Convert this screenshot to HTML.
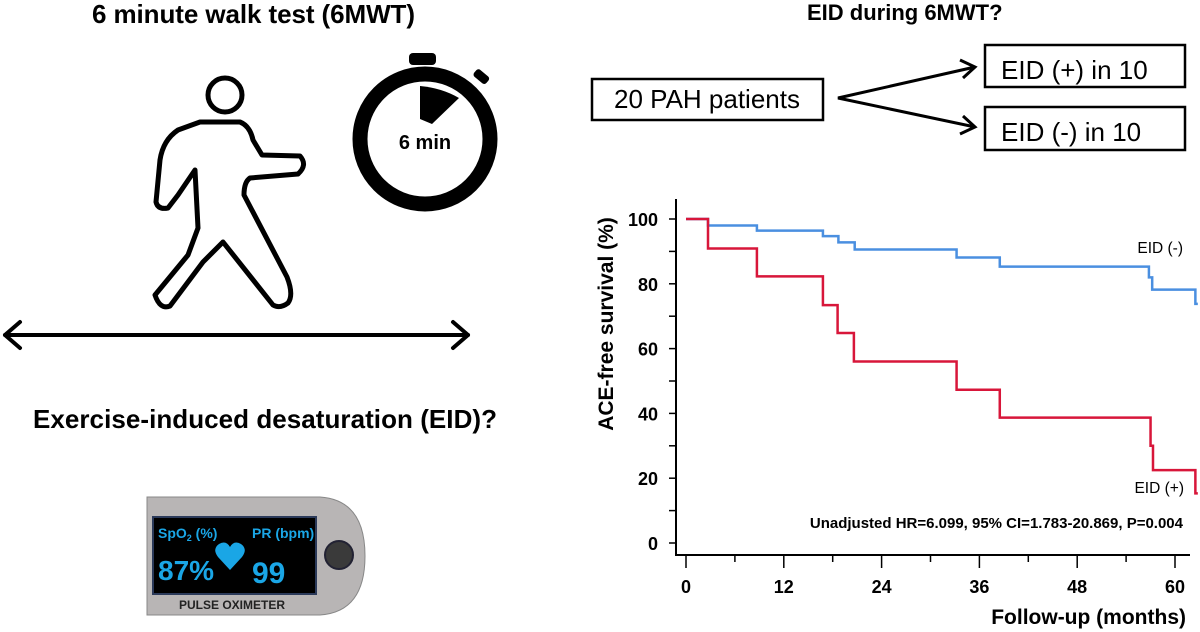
<!DOCTYPE html>
<html><head><meta charset="utf-8"><style>
body{margin:0;background:#fff;width:1200px;height:632px;overflow:hidden;font-family:"Liberation Sans",Arial,sans-serif}
svg{display:block}
</style></head><body>
<svg width="1200" height="632" viewBox="0 0 1200 632" xmlns="http://www.w3.org/2000/svg" font-family="Liberation Sans, Arial, sans-serif">
<text x="92" y="23" font-size="26" font-weight="bold" textLength="323">6 minute walk test (6MWT)</text>
<g fill="none" stroke="#000" stroke-width="5" stroke-linejoin="round" stroke-linecap="round">
<circle cx="225" cy="95" r="17"/>
<path d="M200 122 L240 122 Q250 126 253 140 L262 155 L300 156 Q308 165 298 174 L250 178 Q244 182 244 195 L287 277 Q294 295 288 303 Q280 309 273 305 L223 242 L203 262 L170 306 Q160 310 155 295 L188 255 L198 228 L195 170 L178 195 L168 208 Q158 210 156 202 L160 160 Q163 140 178 130 Z"/>
</g>
<g>
<circle cx="425" cy="139" r="65" fill="none" stroke="#000" stroke-width="15"/>
<rect x="409" y="53" width="27" height="12" rx="4" fill="#000"/>
<rect x="473" y="72" width="16" height="9" rx="3" fill="#000" transform="rotate(40 481 77)"/>
<path d="M420 86 L420 119 L432 124 L459 98 Q442 88 420 86 Z" fill="#000"/>
<text x="425" y="149" text-anchor="middle" font-size="20" font-weight="bold">6 min</text>
</g>
<g stroke="#000" stroke-width="4" fill="none" stroke-linecap="round" stroke-linejoin="round">
<line x1="5" y1="335" x2="468" y2="335"/>
<polyline points="20,322 5,335 20,348"/>
<polyline points="453,322 468,335 453,348"/>
</g>
<text x="33" y="428" font-size="26" font-weight="bold" textLength="464">Exercise-induced desaturation (EID)?</text>
<g>
<path d="M147 497 L320 497 Q365 500 365 556 Q365 612 320 615 L147 615 Z" fill="#b8b5b5" stroke="#888" stroke-width="1"/>
<rect x="153" y="517" width="163" height="77" fill="#000" stroke="#2b3a5a" stroke-width="2"/>
<circle cx="339" cy="555" r="14" fill="#3a3a3a" stroke="#223" stroke-width="2"/>
<text x="158" y="538" font-size="14" font-weight="bold" fill="#1aa6e6">SpO<tspan font-size="9" dy="3">2</tspan><tspan dy="-3"> (%)</tspan></text>
<text x="252" y="538" font-size="14" font-weight="bold" fill="#1aa6e6">PR (bpm)</text>
<text x="158" y="580" font-size="28" font-weight="bold" fill="#1aa6e6">87%</text>
<text x="252" y="583" font-size="30" font-weight="bold" fill="#1aa6e6">99</text>
<path d="M230 570 L218 557 Q212 549 219 544 Q226 540 230 547 Q234 540 241 544 Q248 549 242 557 Z" fill="#1aa6e6"/>
<text x="232" y="609" text-anchor="middle" font-size="12" font-weight="bold" fill="#222">PULSE OXIMETER</text>
</g>
<text x="807" y="20" font-size="22" font-weight="bold">EID during 6MWT?</text>
<g>
<rect x="592" y="79" width="231" height="41" fill="#fff" stroke="#000" stroke-width="2.5"/>
<text x="707" y="108" text-anchor="middle" font-size="26">20 PAH patients</text>
</g>
<g stroke="#000" stroke-width="3" fill="none">
<polyline points="975,67 838,98 975,127"/>
<polyline points="960,60 975,67 963,78"/>
<polyline points="963,116 975,127 960,134"/>
</g>
<g>
<rect x="985" y="45" width="200" height="42" fill="#fff" stroke="#000" stroke-width="2.5"/>
<text x="1001" y="79" font-size="26">EID (+) in 10</text>
</g>
<g>
<rect x="985" y="107" width="200" height="43" fill="#fff" stroke="#000" stroke-width="2.5"/>
<text x="1001" y="141" font-size="26">EID (-) in 10</text>
</g>
<g id="chart"></g>
</svg>
<script>
const xTicks=[0,12,24,36,48,60];
const yTicks=[0,20,40,60,80,100];
const negTimes=[0,2.7,8.7,16.8,18.7,20.7,33.2,38.5,56.8,57.2,62.5];
const negSurv=[100,98.0,96.4,94.7,92.8,90.6,88.1,85.3,82.0,78.2,73.8];
const negEnd=62.8;
const posTimes=[0,2.7,8.7,16.8,18.6,20.6,33.2,38.5,57.0,57.3,62.5];
const posSurv=[100,90.9,82.3,73.4,64.8,56.0,47.3,38.7,30.0,22.5,15.3];
const posEnd=62.8;
const NS='http://www.w3.org/2000/svg';
const g=document.getElementById('chart');
const X=m=>686+m*8.15;
const Y=v=>543-v*3.24;
function mk(t,a){const e=document.createElementNS(NS,t);for(const k in a)e.setAttribute(k,a[k]);g.appendChild(e);return e;}
let ax=mk('path',{d:'M676 199 L676 555 L1190 555',fill:'none',stroke:'#000','stroke-width':2});


for(let v=0;v<=100;v+=10){const t=mk('line',{x1:669,x2:676,y1:Y(v),y2:Y(v),stroke:'#000','stroke-width':1.5});

}
yTicks.forEach(v=>{const t=mk('text',{x:658,y:Y(v)+7,'text-anchor':'end','font-size':18,'font-weight':'bold'});t.textContent=v;

});
for(let m=0;m<=60;m+=6){const t=mk('line',{x1:X(m),x2:X(m),y1:555,y2:m%12?562:568,stroke:'#000','stroke-width':1.5});

}
xTicks.forEach(m=>{const t=mk('text',{x:X(m),y:593,'text-anchor':'middle','font-size':18,'font-weight':'bold'});t.textContent=m;

});
function step(ts,ss,end,col,name){let d='M'+X(ts[0])+' '+Y(ss[0]);for(let i=1;i<ts.length;i++){d+=' L'+X(ts[i])+' '+Y(ss[i-1])+' L'+X(ts[i])+' '+Y(ss[i]);}d+=' L'+X(end)+' '+Y(ss[ss.length-1]);
const p=mk('path',{d:d,fill:'none',stroke:col,'stroke-width':2.5});

}
step(negTimes,negSurv,negEnd,'#4a8fe0','eid-negative-curve');
step(posTimes,posSurv,posEnd,'#d8163a','eid-positive-curve');
let t=mk('text',{x:1183,y:253,'text-anchor':'end','font-size':15.5});t.textContent='EID (-)';


t=mk('text',{x:1184,y:493,'text-anchor':'end','font-size':15.5});t.textContent='EID (+)';


t=mk('text',{x:1183,y:528,'text-anchor':'end','font-size':15,'font-weight':'bold'});t.textContent='Unadjusted HR=6.099, 95% CI=1.783-20.869, P=0.004';


t=mk('text',{x:1186,y:624,'text-anchor':'end','font-size':21,'font-weight':'bold'});t.textContent='Follow-up (months)';


t=mk('text',{x:0,y:0,'text-anchor':'middle','font-size':21,'font-weight':'bold',transform:'translate(613 324) rotate(-90)'});t.textContent='ACE-free survival (%)';


</script>
</body></html>
